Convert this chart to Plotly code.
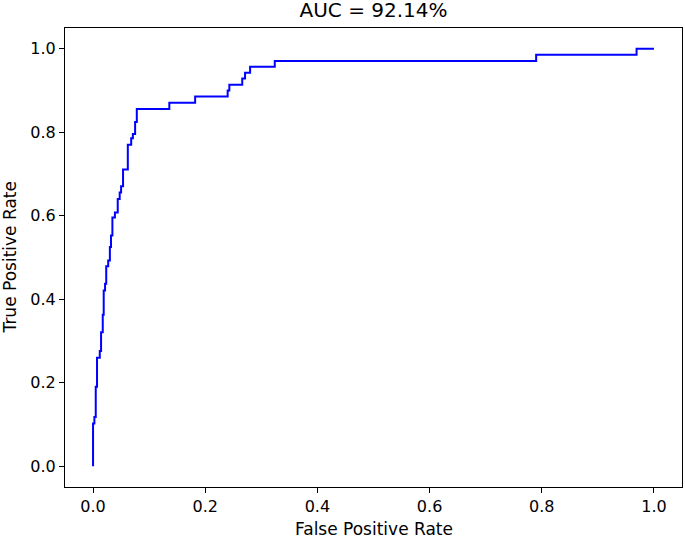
import plotly.graph_objs as go

# ROC corner points (fpr, tpr)
fpr = [0.0, 0.0, 0.0024, 0.0024, 0.0048, 0.0048, 0.0071, 0.0071, 0.012, 0.012,
       0.0143, 0.0143, 0.0173, 0.0173, 0.019, 0.019, 0.0214, 0.0214, 0.0235, 0.0235,
       0.027, 0.027, 0.030, 0.030, 0.032, 0.032, 0.0345, 0.0345, 0.039, 0.039,
       0.044, 0.044, 0.0475, 0.0475, 0.050, 0.050, 0.0535, 0.0535, 0.062, 0.062,
       0.068, 0.068, 0.071, 0.071, 0.075, 0.075, 0.078, 0.078, 0.136, 0.136,
       0.182, 0.182, 0.240, 0.240, 0.243, 0.243, 0.266, 0.266, 0.271, 0.271,
       0.280, 0.280, 0.324, 0.324, 0.790, 0.790, 0.969, 0.969, 1.0]
tpr = [0.0, 0.102, 0.102, 0.118, 0.118, 0.190, 0.190, 0.260, 0.260, 0.276,
       0.276, 0.321, 0.321, 0.363, 0.363, 0.421, 0.421, 0.437, 0.437, 0.479,
       0.479, 0.493, 0.493, 0.525, 0.525, 0.553, 0.553, 0.596, 0.596, 0.608,
       0.608, 0.640, 0.640, 0.656, 0.656, 0.671, 0.671, 0.711, 0.711, 0.770,
       0.770, 0.786, 0.786, 0.796, 0.796, 0.825, 0.825, 0.856, 0.856, 0.871,
       0.871, 0.886, 0.886, 0.900, 0.900, 0.914, 0.914, 0.929, 0.929, 0.943,
       0.943, 0.957, 0.957, 0.971, 0.971, 0.986, 0.986, 1.0, 1.0]
auc = 92.14
ticks = [0.0, 0.2, 0.4, 0.6, 0.8, 1.0]
tick_text = ['0.0', '0.2', '0.4', '0.6', '0.8', '1.0']

tick_font = dict(family='DejaVu Sans', size=16, color='black')
label_font = dict(family='DejaVu Sans', size=17, color='black')
axis = dict(range=[-0.05, 1.05], showgrid=False, zeroline=False, showline=True,
            mirror=True, linecolor='black', linewidth=1, ticks='outside',
            ticklen=5, tickwidth=1, tickcolor='black', tickvals=ticks,
            ticktext=tick_text, tickfont=tick_font, automargin=False)

fig = go.Figure(go.Scatter(x=fpr, y=tpr, mode='lines',
                           line=dict(color='blue', width=2), hoverinfo='none'))
fig.update_layout(
    width=685, height=537,
    margin=dict(l=65, r=3, t=28, b=50),
    paper_bgcolor='white', plot_bgcolor='white',
    font=tick_font, showlegend=False,
    title=dict(text='AUC = %.2f%%' % auc, x=0.5, xref='paper', xanchor='center',
               y=1 - 10 / 537, yref='container', yanchor='middle',
               font=dict(family='DejaVu Sans', size=20, color='black')),
    xaxis=axis,
    yaxis=axis,
    annotations=[
        dict(text='False Positive Rate', xref='paper', yref='paper', x=0.5, y=0,
             xanchor='center', yanchor='middle', yshift=-42, showarrow=False,
             font=label_font),
        dict(text='True Positive Rate', xref='paper', yref='paper', x=0, y=0.5,
             xanchor='center', yanchor='middle', xshift=-56, textangle=-90,
             showarrow=False, font=label_font),
    ],
)
# drop the browser's default body margin so the figure sits at the page corner
fig.write_html('out.html', config={'displayModeBar': False},
               post_script="document.body.style.margin='0';document.body.style.overflow='hidden';")
